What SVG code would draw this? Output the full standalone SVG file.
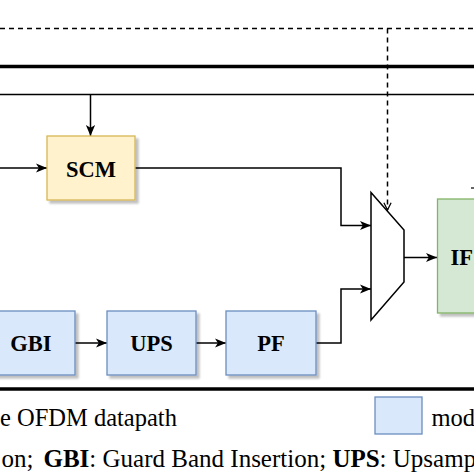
<svg xmlns="http://www.w3.org/2000/svg" width="474" height="474" viewBox="0 0 474 474">
<defs>
<marker id="arr" viewBox="0 0 10 10" markerWidth="11" markerHeight="11" refX="10" refY="5" orient="auto" markerUnits="userSpaceOnUse">
<path d="M0,0.8 L10,5 L0,9.2 L2.6,5 z" fill="#000"/>
</marker>
<marker id="open" viewBox="0 0 10 10" markerWidth="9" markerHeight="9" refX="9" refY="5" orient="auto" markerUnits="userSpaceOnUse">
<path d="M1,1 L9,5 L1,9" fill="none" stroke="#000" stroke-width="1.4"/>
</marker>
<filter id="sh" x="-10%" y="-10%" width="130%" height="130%">
<feGaussianBlur in="SourceAlpha" stdDeviation="1"/>
<feOffset dx="3" dy="3" result="o"/>
<feComponentTransfer><feFuncA type="linear" slope="0.25"/></feComponentTransfer>
<feMerge><feMergeNode/><feMergeNode in="SourceGraphic"/></feMerge>
</filter>
</defs>
<style>
.blue{fill:#dae8fc;stroke:#6c8ebf;stroke-width:1.3}
.yel{fill:#fff2cc;stroke:#d6b656;stroke-width:1.3}
.grn{fill:#d5e8d4;stroke:#82b366;stroke-width:1.3}
.lbl{font-family:"Liberation Serif","Times New Roman",serif;font-weight:bold;font-size:22.5px;text-anchor:middle;fill:#000}
.txt{font-family:"Liberation Serif","Times New Roman",serif;font-size:24.5px;fill:#000}
.b{font-weight:bold}
.c{fill:none;stroke:#000;stroke-width:1.5}
.d{fill:none;stroke:#000;stroke-width:1.5;stroke-dasharray:5 4}
.thick{stroke:#000;stroke-width:3.5}
</style>
<g id="frame">
<line x1="0" y1="66.5" x2="474" y2="66.5" class="thick"/>
<line x1="0" y1="389" x2="474" y2="389" class="thick"/>
<line x1="0" y1="94.5" x2="474" y2="94.5" stroke="#000" stroke-width="1.3"/>
<line x1="471" y1="188" x2="474" y2="188" stroke="#000" stroke-width="1.2"/>
</g>
<g id="connectors">
<line x1="0" y1="28.5" x2="474" y2="28.5" class="d"/>
<path d="M387.5,28.5 V210" class="d" marker-end="url(#open)"/>
<path d="M90.5,94.5 V136" class="c" marker-end="url(#arr)"/>
<path d="M0,168 H47" class="c" marker-end="url(#arr)"/>
<path d="M135,168 H341 V225.5 H371" class="c" marker-end="url(#arr)"/>
<path d="M316,343 H341 V289 H371" class="c" marker-end="url(#arr)"/>
<path d="M75,343 H107" class="c" marker-end="url(#arr)"/>
<path d="M196,343 H226" class="c" marker-end="url(#arr)"/>
<path d="M404,257.5 H437" class="c" marker-end="url(#arr)"/>
</g>
<g id="scm">
<rect x="47" y="136" width="88" height="64" class="yel" filter="url(#sh)"/>
<text x="91" y="177" class="lbl">SCM</text>
</g>
<g id="mux">
<polygon points="371,192.5 404,230 404,282 371,320" fill="#fff" stroke="#000" stroke-width="1.5"/>
</g>
<g id="if">
<rect x="437.5" y="199" width="50" height="114" class="grn" filter="url(#sh)"/>
<text x="450.5" y="265" class="lbl" style="text-anchor:start">IF</text>
</g>
<g id="gbi">
<rect x="-13" y="311" width="88" height="64" class="blue" filter="url(#sh)"/>
<text x="31" y="351" class="lbl">GBI</text>
</g>
<g id="ups">
<rect x="107" y="311" width="89" height="64" class="blue" filter="url(#sh)"/>
<text x="151.5" y="351" class="lbl">UPS</text>
</g>
<g id="pf">
<rect x="226" y="311" width="90" height="64" class="blue" filter="url(#sh)"/>
<text x="271" y="351" class="lbl">PF</text>
</g>
<g id="legend">
<text x="0" y="425.5" class="txt">e OFDM datapath</text>
<rect x="375" y="397" width="47" height="37" class="blue"/>
<text x="431.5" y="425.5" class="txt">mod</text>
<text y="467" class="txt" style="font-size:25px"><tspan x="1.5">on; </tspan><tspan x="43.5" class="b">GBI</tspan><tspan>: Guard Band Insertion; </tspan><tspan class="b">UPS</tspan><tspan>: Upsamp</tspan></text>
</g>
</svg>
